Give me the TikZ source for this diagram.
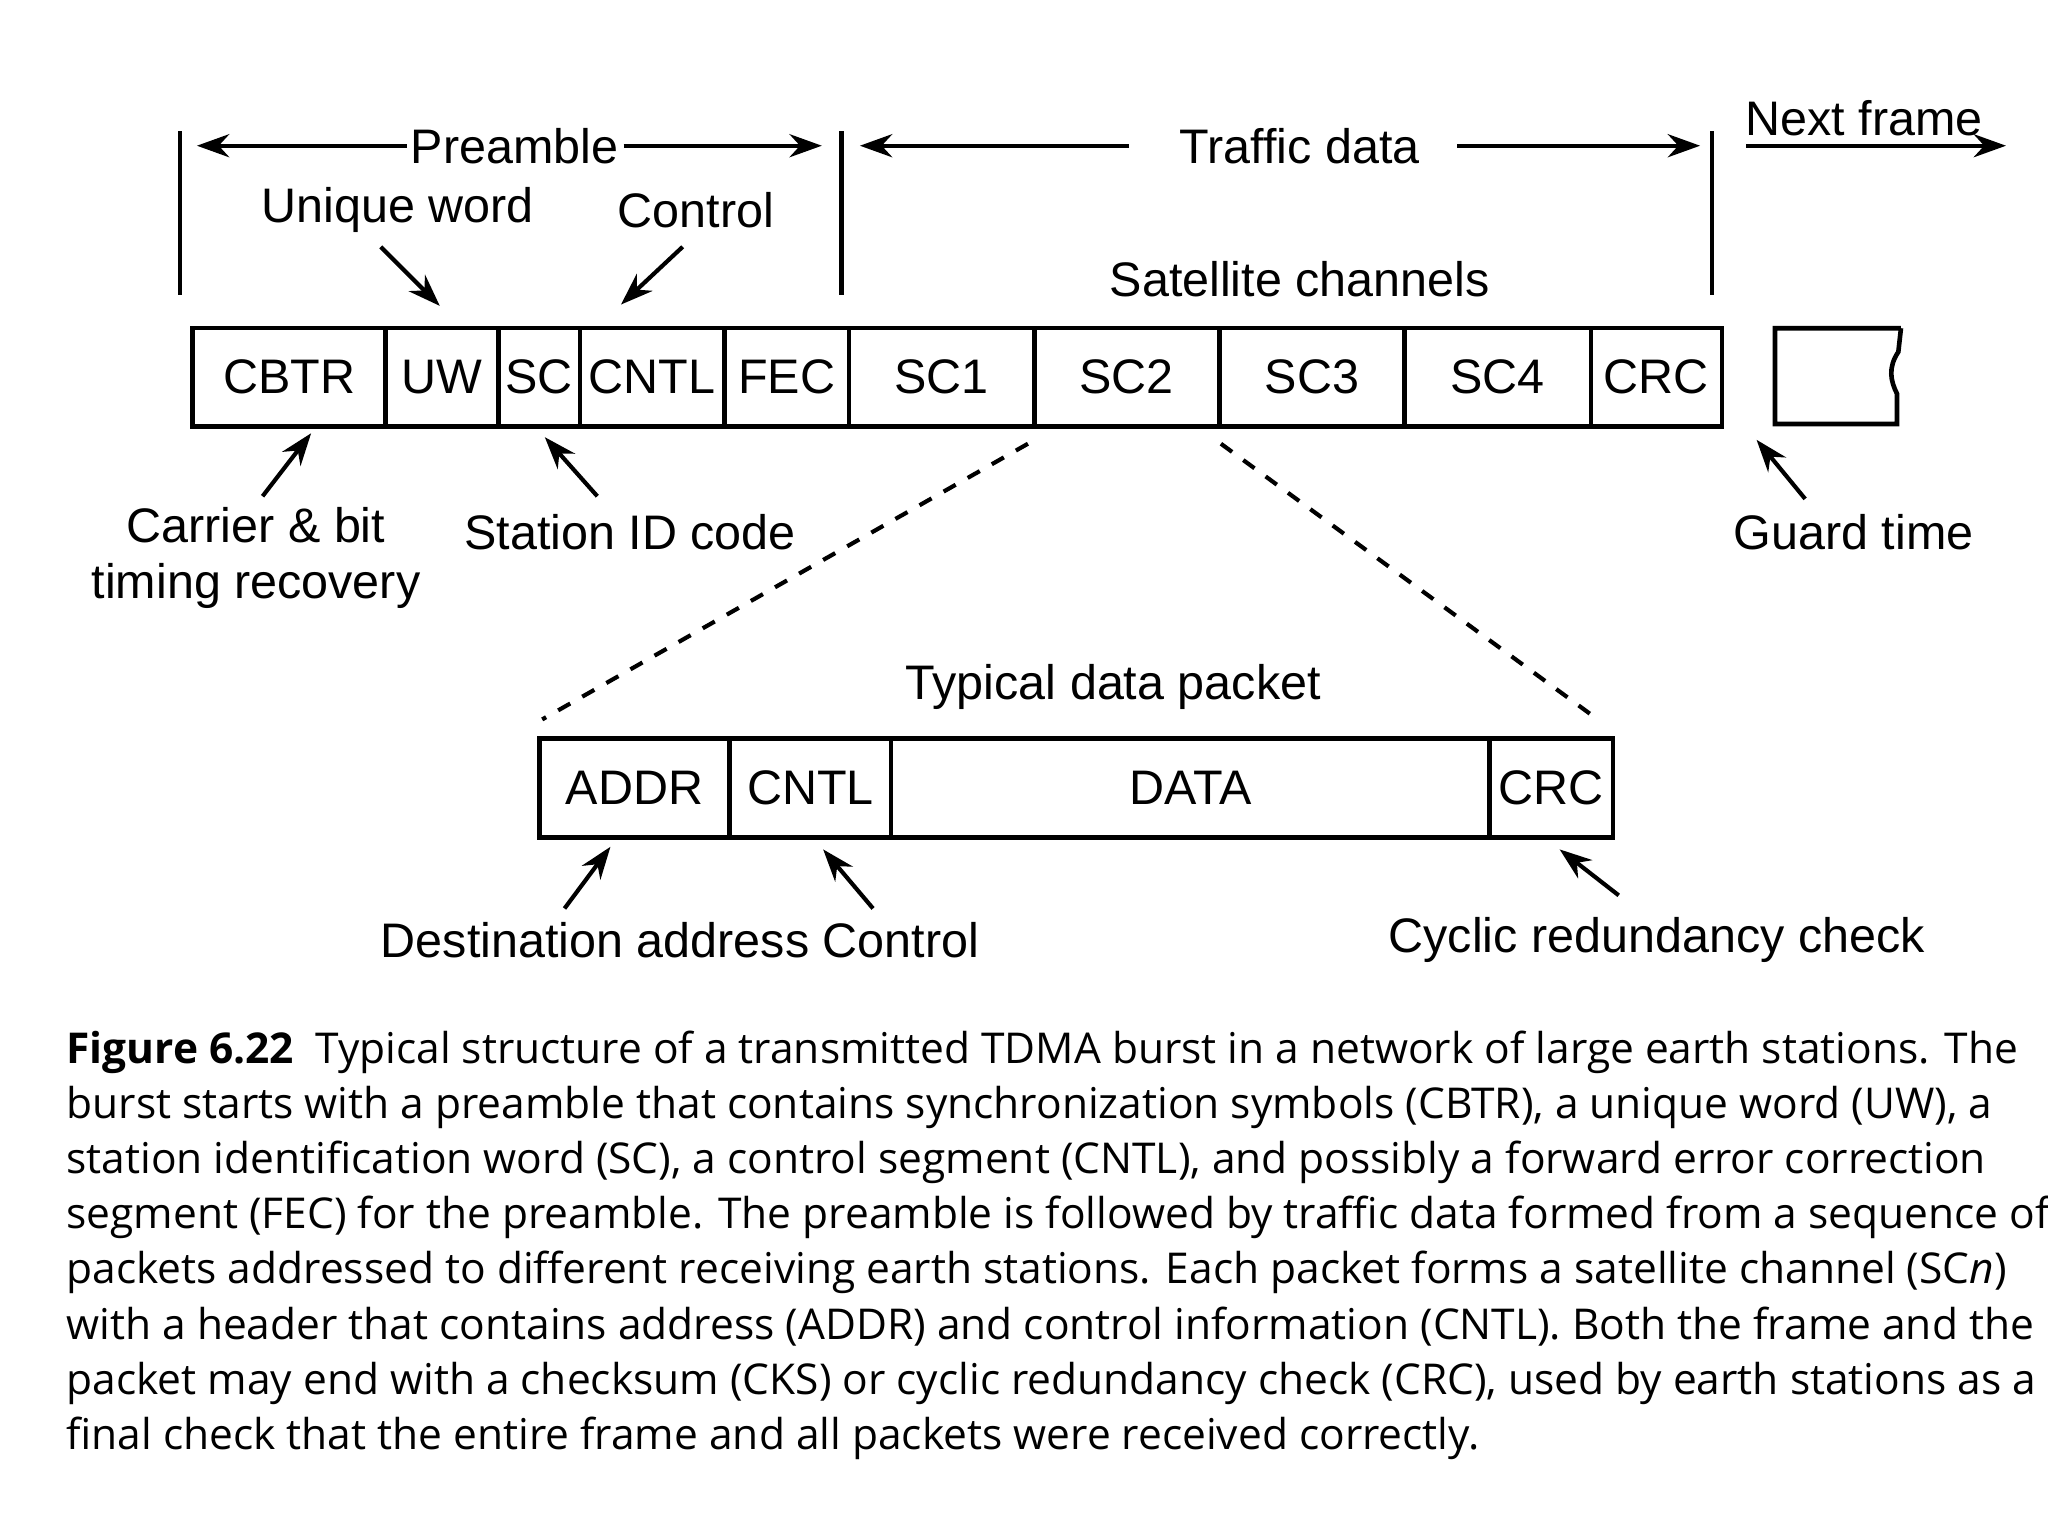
\documentclass[tikz,border=0pt]{standalone}
\usepackage{fontspec}
\setmainfont{Liberation Sans}
\newfontfamily\capfont{Open Sans}
\usetikzlibrary{arrows.meta}
\begin{document}
\begin{tikzpicture}[x=0.01cm,y=-0.01cm,
  box/.style={draw,line width=1pt},
  lbl/.style={font=\fontsize{10.5}{12}\selectfont},
  cell/.style={font=\fontsize{10.5}{12}\selectfont},
  arr/.style={-{Stealth[length=7pt,width=5pt]},line width=0.9pt},
  bar/.style={line width=1pt},
  dashln/.style={dashed,line width=0.9pt},
  captxt/.style={anchor=base west,inner sep=0,font=\capfont\fontsize{9.2}{11}\selectfont}]
\useasboundingbox[fill=white] (0,0) rectangle (1560,1170);
% top frame
\foreach \a/\b/\t/\n in {145/292/CBTR/cbtr,292/378/UW/uw,378/440/SC/sc,440/550/CNTL/cntl,550/645/FEC/fec,645/786/SC1/sca,786/927/SC2/scb,927/1068/SC3/scc,1068/1210/SC4/scd,1210/1310/CRC/crc}
  \node[box,cell,minimum width={(\b-\a)*0.01cm},minimum height=0.75cm,inner sep=0,anchor=north west] (\n) at (\a,248) {\t};
\draw[line width=1pt] (1448,250) -- (1352,250) -- (1352,323) -- (1445,323) -- (1445,300) .. controls (1440,290) and (1438,280) .. (1446,268) -- (1448,250);
% bars
\draw[bar] (137,100) -- (137,225);
\draw[bar] (641,100) -- (641,225);
\draw[bar] (1304,100) -- (1304,225);
\node[lbl] (pre) at (392,111) {Preamble};
\coordinate (p1) at (310,111); \coordinate (p2) at (150,111);
\coordinate (p3) at (475,111); \coordinate (p4) at (626,111);
\draw[arr] (p1) -- (p2); \draw[arr] (p3) -- (p4);
\node[lbl] (td) at (990,111) {Traffic data};
\coordinate (t1) at (860,111); \coordinate (t2) at (655,111);
\coordinate (t3) at (1110,111); \coordinate (t4) at (1295,111);
\draw[arr] (t1) -- (t2); \draw[arr] (t3) -- (t4);
\node[lbl] (nf) at (1420,90) {Next frame};
\coordinate (n1) at (1330,111); \coordinate (n2) at (1528,111);
\draw[arr] (n1) -- (n2);
\node[lbl] (uwl) at (303,160) {Unique word};
\node[lbl] (ctl) at (530,160) {Control};
\coordinate (u1) at (290,188); \coordinate (u2) at (335,233);
\coordinate (c1) at (520,188); \coordinate (c2) at (473,232);
\draw[arr] (u1) -- (u2); \draw[arr] (c1) -- (c2);
\node[lbl] (satc) at (990,213) {Satellite channels};
% below
\node[lbl,align=center] (cbl) at (195,425) {Carrier \& bit\\timing recovery};
\node[lbl] (sid) at (480,405) {Station ID code};
\node[lbl] (gt) at (1412,405) {Guard time};
\coordinate (a1) at (200,378); \coordinate (a2) at (237,330);
\coordinate (b1) at (455,378); \coordinate (b2) at (415,333);
\coordinate (g1) at (1375,380); \coordinate (g2) at (1338,335);
\draw[arr] (a1) -- (a2); \draw[arr] (b1) -- (b2); \draw[arr] (g1) -- (g2);
% packet
\foreach \a/\b/\t/\n in {409/554/ADDR/addr,554/677/CNTL/pcntl,677/1133/DATA/data,1133/1227/CRC/pcrc}
  \node[box,cell,minimum width={(\b-\a)*0.01cm},minimum height=0.75cm,inner sep=0,anchor=north west] (\n) at (\a,561) {\t};
\coordinate (d1) at (783,338); \coordinate (d2) at (413,548);
\coordinate (d3) at (930,338); \coordinate (d4) at (1217,548);
\draw[dashln] (d1) -- (d2); \draw[dashln] (d3) -- (d4);
\node[lbl] (tdp) at (848,523) {Typical data packet};
\coordinate (e1) at (430,692); \coordinate (e2) at (465,645);
\coordinate (f1) at (665,692); \coordinate (f2) at (627,647);
\coordinate (h1) at (1233,682); \coordinate (h2) at (1188,647);
\draw[arr] (e1) -- (e2); \draw[arr] (f1) -- (f2); \draw[arr] (h1) -- (h2);
\node[lbl] (dac) at (518,716) {Destination address Control};
\node[lbl] (crcl) at (1262,716) {Cyclic redundancy check};
% caption
\node[captxt] (l1) at (50,810) {\textbf{Figure 6.22}\enspace Typical structure of a transmitted TDMA burst in a network of large earth stations. The};
\node[captxt] (l2) at (50,852) {burst starts with a preamble that contains synchronization symbols (CBTR), a unique word (UW), a};
\node[captxt] (l3) at (50,894) {station identification word (SC), a control segment (CNTL), and possibly a forward error correction};
\node[captxt] (l4) at (50,936) {segment (FEC) for the preamble. The preamble is followed by traffic data formed from a sequence of};
\node[captxt] (l5) at (50,978) {packets addressed to different receiving earth stations. Each packet forms a satellite channel (SC\textit{n})};
\node[captxt] (l6) at (50,1020) {with a header that contains address (ADDR) and control information (CNTL). Both the frame and the};
\node[captxt] (l7) at (50,1062) {packet may end with a checksum (CKS) or cyclic redundancy check (CRC), used by earth stations as a};
\node[captxt] (l8) at (50,1104) {final check that the entire frame and all packets were received correctly.};
\end{tikzpicture}
\end{document}
